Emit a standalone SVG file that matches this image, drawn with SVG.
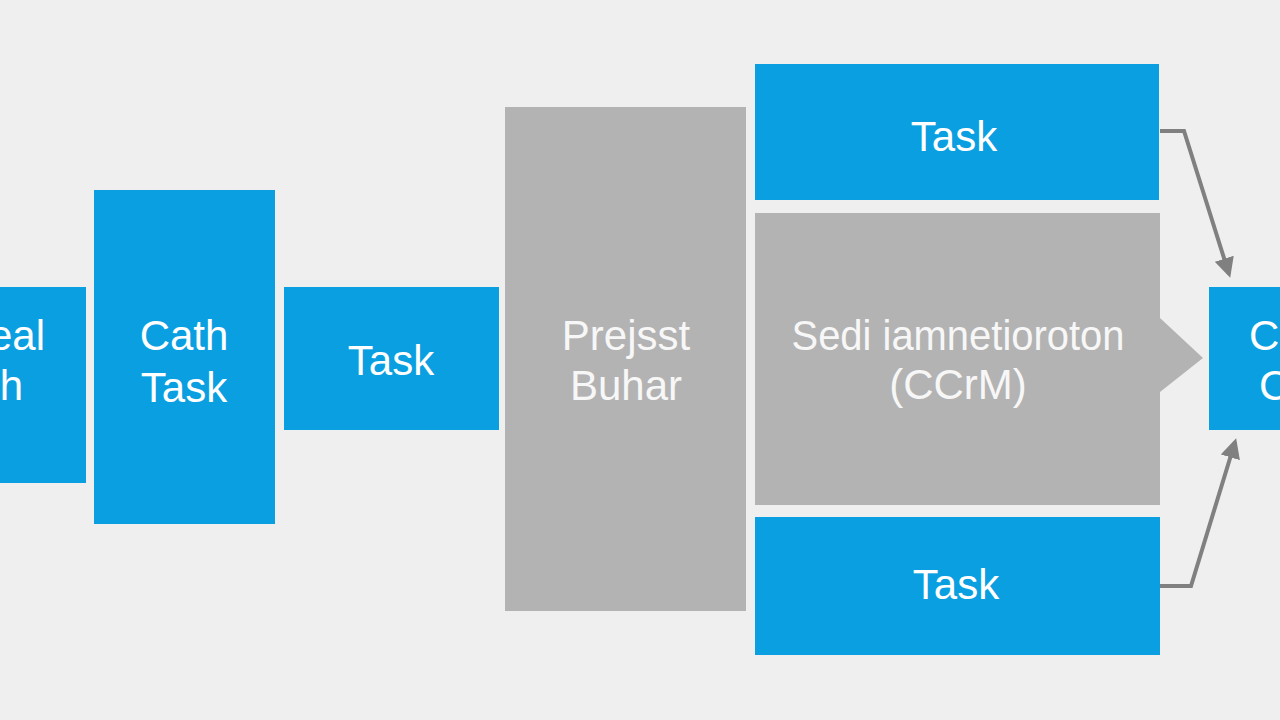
<svg xmlns="http://www.w3.org/2000/svg" width="1280" height="720" viewBox="0 0 1280 720">
<style>
.blue{fill:#0a9fe1}
.gray{fill:#b3b3b3}
.t{font-family:"Liberation Sans",Arial,sans-serif;font-size:42px;fill:#ffffff;text-anchor:middle}
.tg{font-family:"Liberation Sans",Arial,sans-serif;font-size:42px;fill:#f7f7f7;text-anchor:middle}
.conn{fill:none;stroke:#808080;stroke-width:4;stroke-linejoin:miter}
</style>
<defs>
<marker id="ah" viewBox="0 0 10 10" refX="8" refY="5" markerWidth="5" markerHeight="5" orient="auto" markerUnits="strokeWidth">
<path d="M0,0 L10,5 L0,10 z" fill="#808080"/>
</marker>
</defs>
<rect width="1280" height="720" fill="#efefef"/>
<g id="node-left">
<rect class="blue" x="0" y="287" width="86" height="196"/>
<text class="t" x="45" y="350" style="text-anchor:end">eal</text>
<text class="t" x="23" y="400" style="text-anchor:end">h</text>
</g>
<g id="node-cath">
<rect class="blue" x="94" y="190" width="181" height="334"/>
<text class="t" x="184" y="350">Cath</text>
<text class="t" x="184" y="402">Task</text>
</g>
<g id="node-task1">
<rect class="blue" x="284" y="287" width="215" height="143"/>
<text class="t" x="391" y="375">Task</text>
</g>
<g id="node-project">
<rect class="gray" x="505" y="107" width="241" height="504"/>
<text class="tg" x="626" y="350">Prejsst</text>
<text class="tg" x="626" y="400">Buhar</text>
</g>
<g id="node-task-top">
<rect class="blue" x="755" y="64" width="404" height="136"/>
<text class="t" x="954" y="151">Task</text>
</g>
<g id="node-gray-mid">
<path class="gray" d="M755,213 H1160 V318 L1203,358 L1160,392 V505 H755 Z"/>
<text class="tg" x="958" y="350" textLength="333" lengthAdjust="spacingAndGlyphs">Sedi iamnetioroton</text>
<text class="tg" x="958" y="399">(CCrM)</text>
</g>
<g id="node-task-bottom">
<rect class="blue" x="755" y="517" width="405" height="138"/>
<text class="t" x="956" y="599">Task</text>
</g>
<g id="node-right">
<rect class="blue" x="1209" y="287" width="80" height="143"/>
<text class="t" x="1249" y="350" style="text-anchor:start">C</text>
<text class="t" x="1259" y="400" style="text-anchor:start">C</text>
</g>
<g id="connectors">
<path class="conn" d="M1160,131 H1184 L1229,274" marker-end="url(#ah)"/>
<path class="conn" d="M1160,586 H1191 L1235,442" marker-end="url(#ah)"/>
</g>
</svg>
